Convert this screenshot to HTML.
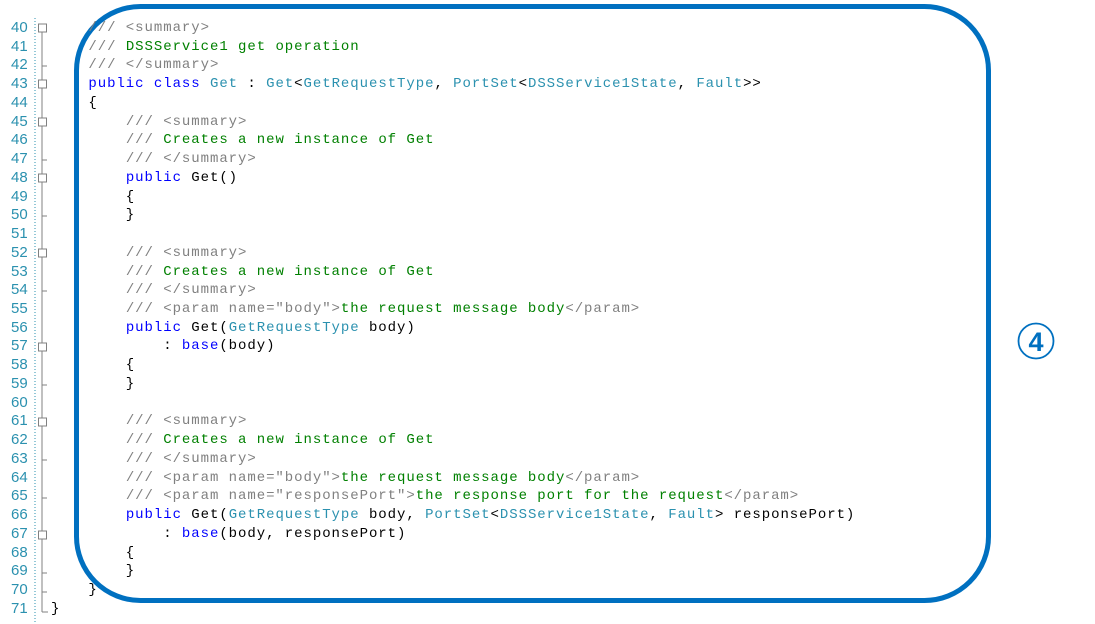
<!DOCTYPE html>
<html><head><meta charset="utf-8"><style>
body{margin:0;width:1095px;height:624px;background:#fff;position:relative;overflow:hidden;font-family:"Liberation Mono",monospace;}
.code{position:absolute;left:51px;top:19px;font-size:14px;letter-spacing:0.95px;line-height:18.74px;white-space:pre;color:#000;}
.nums{position:absolute;left:11px;top:19px;font-size:15px;line-height:18.74px;color:#2b91af;white-space:pre;font-family:"Liberation Sans",sans-serif;}
.c{color:#808080}.g{color:#008000}.k{color:#0000ff}.t{color:#2b91af}
.box{position:absolute;left:0;top:0;}
</style></head><body>
<div class="nums">40
41
42
43
44
45
46
47
48
49
50
51
52
53
54
55
56
57
58
59
60
61
62
63
64
65
66
67
68
69
70
71</div>
<svg class="box" width="1095" height="624">
<line x1="35" y1="18" x2="35" y2="622" stroke="#2b91af" stroke-width="1" stroke-dasharray="1,2"/>
<line x1="42" y1="24" x2="42" y2="612" stroke="#808080" stroke-width="1"/>
<g fill="#fff" stroke="#808080" stroke-width="1">
<rect x="38.5" y="24" width="8" height="8"/><rect x="38.5" y="80" width="8" height="8"/>
<rect x="38.5" y="118" width="8" height="8"/><rect x="38.5" y="174" width="8" height="8"/>
<rect x="38.5" y="249" width="8" height="8"/><rect x="38.5" y="343" width="8" height="8"/>
<rect x="38.5" y="418" width="8" height="8"/><rect x="38.5" y="531" width="8" height="8"/>
</g>
<g stroke="#808080" stroke-width="1">
<line x1="42" y1="66" x2="47" y2="66"/><line x1="42" y1="160" x2="47" y2="160"/>
<line x1="42" y1="216" x2="47" y2="216"/><line x1="42" y1="291" x2="47" y2="291"/>
<line x1="42" y1="385" x2="47" y2="385"/><line x1="42" y1="460" x2="47" y2="460"/>
<line x1="42" y1="498" x2="47" y2="498"/><line x1="42" y1="573" x2="47" y2="573"/>
<line x1="42" y1="592" x2="47" y2="592"/><line x1="42" y1="612" x2="48" y2="612"/>
</g>
<rect x="76.5" y="6.5" width="912" height="594" rx="64" ry="64" fill="none" stroke="#0070c0" stroke-width="5"/>
<circle cx="1036" cy="341" r="17.5" fill="none" stroke="#0070c0" stroke-width="1.8"/>
<text x="1036" y="351" text-anchor="middle" font-family="Liberation Sans,sans-serif" font-weight="bold" font-size="27" fill="#0070c0">4</text>
</svg>
<div class="code">    <span class="c">/// &lt;summary&gt;</span>
    <span class="c">///</span> <span class="g">DSSService1 get operation</span>
    <span class="c">/// &lt;/summary&gt;</span>
    <span class="k">public class</span> <span class="t">Get</span> : <span class="t">Get</span>&lt;<span class="t">GetRequestType</span>, <span class="t">PortSet</span>&lt;<span class="t">DSSService1State</span>, <span class="t">Fault</span>&gt;&gt;
    {
        <span class="c">/// &lt;summary&gt;</span>
        <span class="c">///</span> <span class="g">Creates a new instance of Get</span>
        <span class="c">/// &lt;/summary&gt;</span>
        <span class="k">public</span> Get()
        {
        }

        <span class="c">/// &lt;summary&gt;</span>
        <span class="c">///</span> <span class="g">Creates a new instance of Get</span>
        <span class="c">/// &lt;/summary&gt;</span>
        <span class="c">/// &lt;param name="body"&gt;</span><span class="g">the request message body</span><span class="c">&lt;/param&gt;</span>
        <span class="k">public</span> Get(<span class="t">GetRequestType</span> body)
            : <span class="k">base</span>(body)
        {
        }

        <span class="c">/// &lt;summary&gt;</span>
        <span class="c">///</span> <span class="g">Creates a new instance of Get</span>
        <span class="c">/// &lt;/summary&gt;</span>
        <span class="c">/// &lt;param name="body"&gt;</span><span class="g">the request message body</span><span class="c">&lt;/param&gt;</span>
        <span class="c">/// &lt;param name="responsePort"&gt;</span><span class="g">the response port for the request</span><span class="c">&lt;/param&gt;</span>
        <span class="k">public</span> Get(<span class="t">GetRequestType</span> body, <span class="t">PortSet</span>&lt;<span class="t">DSSService1State</span>, <span class="t">Fault</span>&gt; responsePort)
            : <span class="k">base</span>(body, responsePort)
        {
        }
    }
}</div>
</body></html>
